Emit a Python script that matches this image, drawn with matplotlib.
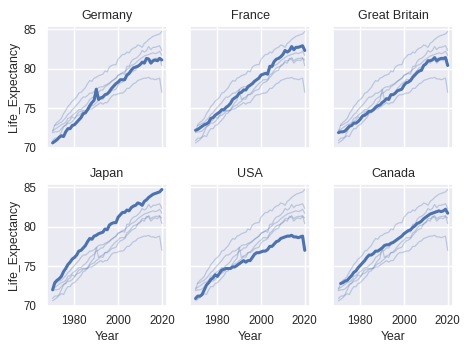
import numpy as np
import matplotlib
matplotlib.use("Agg")
import matplotlib.pyplot as plt
import seaborn as sns

# life expectancy at birth
years = list(range(1970, 2021))

germany = [70.6, 70.8, 71.0, 71.3, 71.5, 71.4, 72.0, 72.4, 72.4, 72.8,
           72.9, 73.2, 73.5, 73.8, 74.3, 74.4, 74.8, 75.3, 75.7, 76.0,
           77.4, 76.1, 76.3, 76.4, 76.7, 76.8, 77.1, 77.5, 77.8, 78.1,
           78.3, 78.6, 78.6, 78.6, 79.2, 79.4, 79.8, 80.1, 80.2, 80.3,
           80.5, 80.8, 80.7, 81.3, 81.2, 80.7, 81.0, 81.1, 81.0, 81.3, 81.1]

france = [72.2, 72.3, 72.5, 72.7, 72.9, 73.0, 73.2, 73.7, 73.8, 74.1,
          74.3, 74.5, 74.8, 74.8, 75.1, 75.3, 75.6, 76.1, 76.3, 76.5,
          76.9, 77.0, 77.3, 77.3, 77.7, 77.9, 78.1, 78.4, 78.6, 78.8,
          79.2, 79.3, 79.4, 79.3, 80.3, 80.3, 80.9, 81.2, 81.3, 81.5,
          81.8, 82.3, 82.1, 82.3, 82.8, 82.4, 82.7, 82.7, 82.8, 82.9, 82.3]

great_britain = [71.9, 72.0, 72.0, 72.1, 72.4, 72.7, 72.8, 73.1, 73.1, 73.3,
                 73.6, 74.0, 74.1, 74.3, 74.6, 74.6, 74.8, 75.1, 75.3, 75.4,
                 75.7, 75.9, 76.2, 76.1, 76.7, 76.7, 76.9, 77.2, 77.3, 77.4,
                 77.9, 78.2, 78.3, 78.5, 78.9, 79.2, 79.5, 79.7, 79.8, 80.4,
                 80.6, 81.0, 81.0, 81.1, 81.4, 81.0, 81.2, 81.3, 81.3, 81.4, 80.4]

japan = [72.0, 72.9, 73.2, 73.4, 73.7, 74.3, 74.7, 75.2, 75.5, 75.9,
         76.1, 76.4, 76.9, 77.0, 77.3, 77.6, 78.1, 78.5, 78.4, 78.8,
         78.9, 79.1, 79.2, 79.3, 79.7, 79.6, 80.2, 80.4, 80.5, 80.5,
         81.2, 81.5, 81.8, 81.8, 82.1, 82.0, 82.4, 82.6, 82.7, 83.0,
         82.9, 82.7, 83.2, 83.4, 83.7, 83.9, 84.1, 84.2, 84.3, 84.4, 84.7]

usa = [70.9, 71.2, 71.2, 71.4, 72.0, 72.6, 72.9, 73.3, 73.5, 73.9,
       73.7, 74.1, 74.5, 74.6, 74.7, 74.7, 74.7, 74.9, 74.9, 75.1,
       75.3, 75.5, 75.7, 75.5, 75.7, 75.7, 76.1, 76.5, 76.7, 76.7,
       76.8, 76.9, 76.9, 77.1, 77.5, 77.5, 77.8, 78.1, 78.2, 78.5,
       78.6, 78.7, 78.8, 78.8, 78.9, 78.7, 78.7, 78.6, 78.7, 78.8, 77.0]

# Canada starts in 1971
canada_years = list(range(1971, 2021))
canada = [72.8, 72.9, 73.1, 73.2, 73.5, 73.8, 74.2, 74.4, 74.8,
          75.1, 75.4, 75.7, 76.1, 76.4, 76.4, 76.6, 76.9, 76.9, 77.1,
          77.3, 77.6, 77.7, 77.7, 77.9, 78.0, 78.2, 78.4, 78.6, 78.8,
          79.1, 79.3, 79.5, 79.6, 79.9, 80.1, 80.4, 80.5, 80.7, 81.0,
          81.2, 81.4, 81.6, 81.7, 81.8, 81.9, 82.0, 81.9, 82.0, 82.2, 81.7]

countries = ["Germany", "France", "Great Britain", "Japan", "USA", "Canada"]
series = {
    "Germany": (years, germany),
    "France": (years, france),
    "Great Britain": (years, great_britain),
    "Japan": (years, japan),
    "USA": (years, usa),
    "Canada": (canada_years, canada),
}

sns.set_theme(style="darkgrid")
plt.rcParams['font.family'] = ['Liberation Sans', 'DejaVu Sans']

fig, axes = plt.subplots(2, 3, figsize=(4.74, 3.51), dpi=100, sharex=True, sharey=True)
fig.subplots_adjust(left=0.0995, right=0.956, top=0.926, bottom=0.127,
                    wspace=0.19, hspace=0.29)

blue = "#4c72b0"
for ax, name in zip(axes.flat, countries):
    # other countries in the background
    for other in countries:
        x, y = series[other]
        ax.plot(x, y, color=blue, alpha=0.3, linewidth=0.9, zorder=2)
    x, y = series[name]
    ax.plot(x, y, color=blue, linewidth=2.2, zorder=5)
    ax.set_title(name, fontsize=9, pad=4.7)
    ax.tick_params(axis="x", labelsize=8.3, length=0, pad=6)
    ax.tick_params(axis="y", labelsize=8.3, length=0, pad=8)

axes[0, 0].set_xticks([1980, 2000, 2020])
axes[0, 0].set_yticks([70, 75, 80, 85])
for ax in axes[:, 0]:
    ax.set_ylabel("Life_Expectancy", fontsize=8.8, labelpad=2)
for ax in axes[1, :]:
    ax.set_xlabel("Year", fontsize=8.8, labelpad=3)

fig.savefig("out.png", dpi=100)
